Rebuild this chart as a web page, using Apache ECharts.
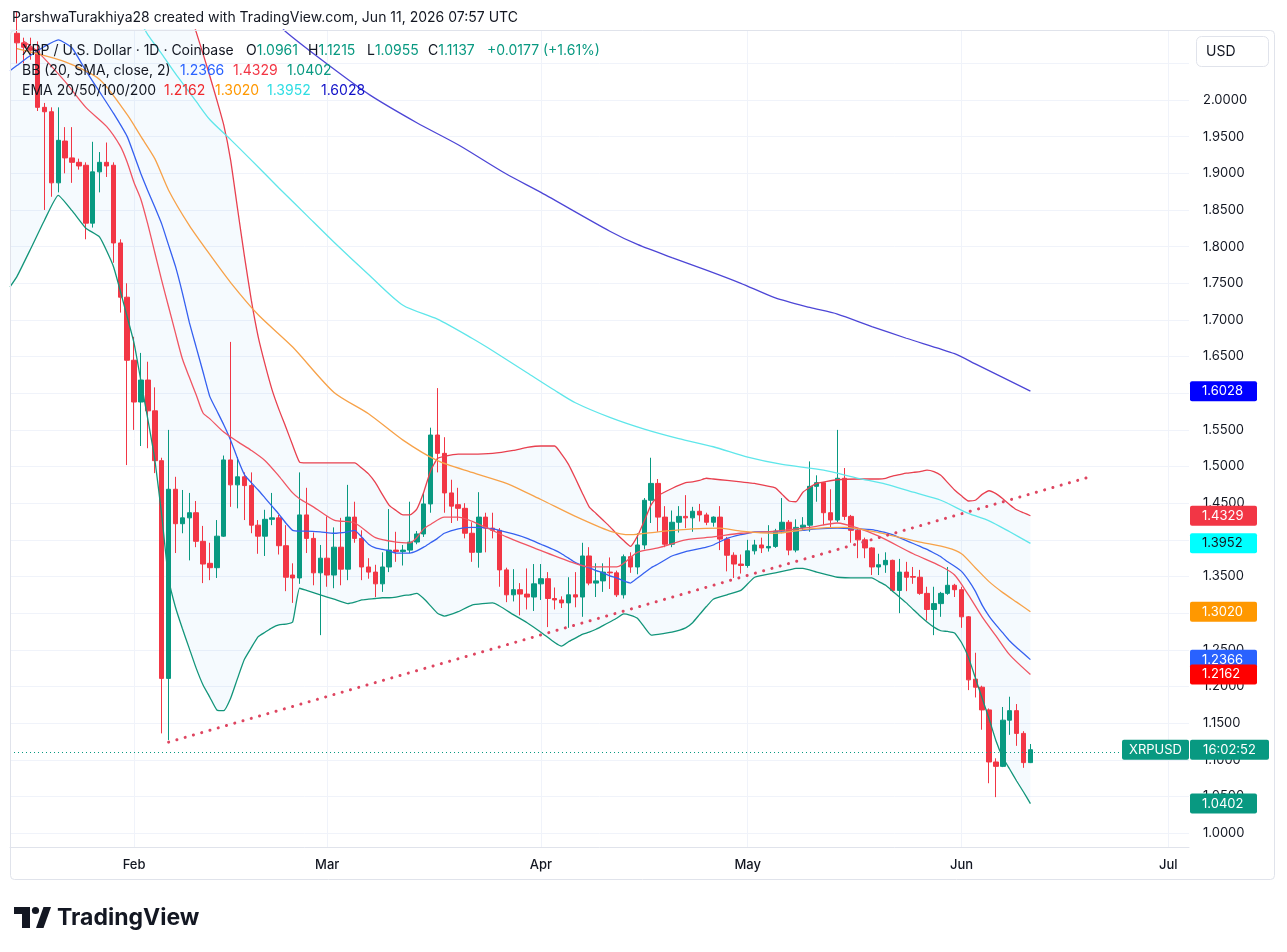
<!DOCTYPE html>
<html lang="en">
<head>
<meta charset="utf-8">
<title>XRP / U.S. Dollar · 1D · Coinbase</title>
<script src="https://cdn.jsdelivr.net/npm/echarts@6.0.0/dist/echarts.min.js"></script>
<style>
  html, body { margin: 0; padding: 0; background: #ffffff; }
  #chart { width: 1287px; height: 952px; }
</style>
</head>
<body>
<div id="chart"></div>
<script>
// days are counted from Jan 1 2026 (Jan 1 = 0)
const axisFirstDay = 13;    // Jan 14, left edge of the pane
const axisLastDay = 184;    // Jul 4, right edge of the pane
const firstCandleDay = 14;  // Jan 15
const monthLabels = ['Jan', 'Feb', 'Mar', 'Apr', 'May', 'Jun', 'Jul'];

// daily candles Jan 15 -> Jun 11
const candleOpen = [
  2.091, 2.078, 2.072, 2.068, 1.990, 1.984, 1.887, 1.944, 1.921, 1.915, 1.911, 1.832, 1.902, 1.915, 1.911, 1.805, 1.731,
  1.645, 1.588, 1.618, 1.576, 1.508, 1.211, 1.469, 1.422, 1.430, 1.437, 1.398, 1.368, 1.362, 1.405, 1.509, 1.475, 1.486, 1.474, 1.420, 1.405, 1.428, 1.430, 1.392, 1.352, 1.348, 1.434, 1.402, 1.355,
  1.375, 1.352, 1.390, 1.360, 1.431, 1.402, 1.363, 1.356, 1.340, 1.363, 1.386, 1.384, 1.386, 1.397, 1.408, 1.449, 1.543, 1.518, 1.464, 1.448, 1.443, 1.409, 1.383, 1.431, 1.416, 1.413, 1.359, 1.325, 1.332, 1.326, 1.322,
  1.340, 1.347, 1.320, 1.318, 1.314, 1.325, 1.322, 1.378, 1.341, 1.344, 1.356, 1.355, 1.325, 1.377, 1.363, 1.393, 1.454, 1.477, 1.431, 1.394, 1.424, 1.432, 1.430, 1.439, 1.434, 1.424, 1.431, 1.401, 1.379, 1.367,
  1.365, 1.385, 1.393, 1.389, 1.391, 1.412, 1.424, 1.386, 1.417, 1.420, 1.473, 1.478, 1.437, 1.427, 1.484, 1.432, 1.413, 1.400, 1.389, 1.363, 1.366, 1.372, 1.331, 1.356, 1.350, 1.349, 1.327, 1.305, 1.313, 1.327, 1.338,
  1.332, 1.295, 1.210, 1.199, 1.168, 1.097, 1.091, 1.154, 1.167, 1.136, 1.0961
];
const candleHigh = [
  2.120, 2.085, 2.085, 2.080, 1.996, 1.990, 1.990, 1.963, 1.963, 1.920, 1.915, 1.943, 1.929, 1.942, 1.915, 1.810, 1.750,
  1.677, 1.655, 1.643, 1.608, 1.512, 1.550, 1.486, 1.468, 1.464, 1.453, 1.419, 1.396, 1.427, 1.515, 1.670, 1.513, 1.492, 1.492, 1.427, 1.441, 1.464, 1.434, 1.420, 1.368, 1.492, 1.471, 1.410, 1.393,
  1.432, 1.417, 1.430, 1.475, 1.452, 1.413, 1.375, 1.366, 1.383, 1.442, 1.411, 1.393, 1.452, 1.412, 1.464, 1.553, 1.607, 1.540, 1.482, 1.471, 1.450, 1.424, 1.465, 1.437, 1.437, 1.416, 1.362, 1.360, 1.341, 1.361, 1.367,
  1.367, 1.356, 1.335, 1.323, 1.349, 1.356, 1.396, 1.390, 1.368, 1.368, 1.376, 1.358, 1.380, 1.383, 1.409, 1.457, 1.512, 1.483, 1.446, 1.440, 1.446, 1.461, 1.445, 1.449, 1.437, 1.432, 1.446, 1.404, 1.383, 1.380,
  1.400, 1.400, 1.403, 1.420, 1.415, 1.457, 1.427, 1.428, 1.431, 1.507, 1.488, 1.479, 1.469, 1.550, 1.498, 1.434, 1.416, 1.403, 1.390, 1.381, 1.383, 1.373, 1.374, 1.370, 1.363, 1.359, 1.336, 1.336, 1.329, 1.363, 1.340,
  1.336, 1.296, 1.246, 1.201, 1.170, 1.102, 1.172, 1.186, 1.176, 1.139, 1.1215
];
const candleLow = [
  2.050, 2.050, 2.055, 1.985, 1.850, 1.868, 1.874, 1.900, 1.887, 1.905, 1.810, 1.826, 1.874, 1.895, 1.778, 1.710, 1.502,
  1.550, 1.528, 1.525, 1.491, 1.136, 1.127, 1.382, 1.409, 1.372, 1.390, 1.341, 1.345, 1.348, 1.404, 1.445, 1.443, 1.427, 1.409, 1.381, 1.378, 1.420, 1.380, 1.330, 1.314, 1.340, 1.382, 1.338, 1.270,
  1.336, 1.334, 1.338, 1.345, 1.396, 1.345, 1.347, 1.322, 1.329, 1.356, 1.370, 1.365, 1.382, 1.394, 1.404, 1.437, 1.492, 1.437, 1.423, 1.426, 1.402, 1.370, 1.362, 1.383, 1.402, 1.336, 1.315, 1.316, 1.297, 1.305, 1.303,
  1.318, 1.281, 1.305, 1.307, 1.280, 1.308, 1.295, 1.338, 1.322, 1.329, 1.333, 1.322, 1.320, 1.355, 1.353, 1.387, 1.423, 1.411, 1.390, 1.390, 1.410, 1.416, 1.411, 1.425, 1.420, 1.418, 1.386, 1.357, 1.348, 1.354,
  1.362, 1.380, 1.382, 1.384, 1.389, 1.409, 1.379, 1.383, 1.413, 1.411, 1.452, 1.420, 1.417, 1.424, 1.427, 1.396, 1.375, 1.375, 1.352, 1.352, 1.355, 1.329, 1.300, 1.330, 1.340, 1.325, 1.290, 1.270, 1.295, 1.325, 1.322,
  1.280, 1.195, 1.185, 1.141, 1.068, 1.049, 1.090, 1.134, 1.119, 1.089, 1.0955
];
const candleClose = [
  2.078, 2.072, 2.068, 1.990, 1.984, 1.887, 1.945, 1.921, 1.915, 1.910, 1.832, 1.902, 1.915, 1.910, 1.805, 1.731, 1.645,
  1.588, 1.618, 1.576, 1.508, 1.211, 1.469, 1.422, 1.430, 1.437, 1.398, 1.367, 1.362, 1.405, 1.509, 1.475, 1.486, 1.474, 1.420, 1.405, 1.428, 1.430, 1.392, 1.349, 1.348, 1.434, 1.402, 1.355, 1.375,
  1.352, 1.390, 1.360, 1.431, 1.402, 1.363, 1.356, 1.340, 1.363, 1.386, 1.384, 1.386, 1.397, 1.408, 1.449, 1.543, 1.518, 1.464, 1.446, 1.443, 1.409, 1.383, 1.431, 1.416, 1.413, 1.359, 1.325, 1.332, 1.326, 1.322, 1.340,
  1.347, 1.320, 1.318, 1.314, 1.325, 1.322, 1.378, 1.341, 1.344, 1.356, 1.355, 1.325, 1.377, 1.363, 1.393, 1.454, 1.477, 1.431, 1.394, 1.424, 1.432, 1.430, 1.439, 1.434, 1.424, 1.431, 1.401, 1.379, 1.367, 1.365,
  1.385, 1.393, 1.389, 1.391, 1.412, 1.424, 1.386, 1.417, 1.420, 1.473, 1.478, 1.437, 1.427, 1.484, 1.432, 1.413, 1.400, 1.389, 1.363, 1.366, 1.372, 1.331, 1.356, 1.349, 1.349, 1.327, 1.305, 1.313, 1.327, 1.338, 1.332,
  1.295, 1.209, 1.199, 1.168, 1.097, 1.091, 1.154, 1.167, 1.136, 1.0961, 1.1137
];
const dayChangeText = '+0.0177 (+1.61%)';

// Bollinger bands (20, SMA, close, 2)
const bbDay = [
  13, 14, 16, 18, 20, 22, 24, 26, 28, 30,
  31, 32, 33, 34, 35, 36, 37, 38, 39, 40,
  41, 42, 43, 44, 45, 46, 47, 48, 49, 50,
  51, 52, 53, 54, 55, 56, 58, 60, 62, 63,
  64, 65, 66, 67, 68, 69, 70, 71, 72, 73,
  74, 75, 76, 78, 80, 83, 86, 88, 90, 92,
  93, 94, 95, 96, 97, 98, 99, 100, 101, 102,
  103, 104, 105, 106, 107, 109, 111, 112, 113, 114,
  115, 117, 119, 120, 121, 124, 125, 126, 127, 128,
  130, 133, 136, 138, 139, 140, 141, 142, 143, 144,
  145, 146, 147, 148, 149, 150, 151, 152, 153, 154,
  155, 156, 157, 158, 159, 160, 161
];
const bbUpper = [
  2.26, 2.26, 2.26, 2.26, 2.25, 2.25, 2.24, 2.23, 2.22, 2.21,
  2.21, 2.20, 2.20, 2.19, 2.19, 2.18, 2.17, 2.15, 2.125, 2.093,
  2.063, 2.032, 2.000, 1.966, 1.918, 1.852, 1.787, 1.727, 1.677, 1.639,
  1.605, 1.578, 1.554, 1.529, 1.506, 1.505, 1.505, 1.505, 1.505, 1.505,
  1.498, 1.490, 1.478, 1.462, 1.447, 1.440, 1.434, 1.434, 1.442, 1.465,
  1.494, 1.511, 1.514, 1.517, 1.517, 1.518, 1.522, 1.526, 1.528, 1.528,
  1.517, 1.503, 1.484, 1.464, 1.445, 1.436, 1.427, 1.418, 1.408, 1.399,
  1.391, 1.405, 1.426, 1.448, 1.460, 1.470, 1.478, 1.479, 1.481, 1.484,
  1.483, 1.481, 1.479, 1.478, 1.477, 1.471, 1.462, 1.453, 1.452, 1.465,
  1.477, 1.482, 1.483, 1.483, 1.483, 1.484, 1.487, 1.489, 1.491, 1.492,
  1.493, 1.495, 1.493, 1.488, 1.478, 1.468, 1.460, 1.453, 1.454, 1.462,
  1.467, 1.463, 1.456, 1.448, 1.441, 1.437, 1.4329
];
const bbBasis = [
  2.040, 2.047, 2.061, 2.073, 2.082, 2.071, 2.040, 2.011, 1.982, 1.950,
  1.925, 1.899, 1.876, 1.854, 1.831, 1.802, 1.773, 1.737, 1.697, 1.663,
  1.629, 1.595, 1.576, 1.557, 1.536, 1.511, 1.489, 1.478, 1.468, 1.457,
  1.446, 1.435, 1.423, 1.413, 1.412, 1.412, 1.411, 1.409, 1.411, 1.413,
  1.404, 1.394, 1.389, 1.387, 1.385, 1.382, 1.382, 1.382, 1.385, 1.390,
  1.396, 1.402, 1.409, 1.415, 1.417, 1.415, 1.408, 1.402, 1.394, 1.386,
  1.381, 1.375, 1.369, 1.365, 1.362, 1.358, 1.355, 1.351, 1.348, 1.344,
  1.341, 1.348, 1.355, 1.362, 1.367, 1.378, 1.384, 1.386, 1.388, 1.390,
  1.393, 1.402, 1.407, 1.409, 1.411, 1.411, 1.411, 1.411, 1.412, 1.413,
  1.415, 1.416, 1.415, 1.414, 1.412, 1.410, 1.407, 1.403, 1.399, 1.395,
  1.391, 1.387, 1.382, 1.377, 1.370, 1.364, 1.357, 1.345, 1.330, 1.311,
  1.296, 1.284, 1.273, 1.262, 1.253, 1.245, 1.2366
];
const bbLower = [
  1.745, 1.759, 1.797, 1.836, 1.870, 1.849, 1.825, 1.813, 1.773, 1.704,
  1.668, 1.616, 1.564, 1.510, 1.434, 1.347, 1.308, 1.279, 1.252, 1.225,
  1.202, 1.185, 1.168, 1.167, 1.184, 1.211, 1.237, 1.253, 1.268, 1.274,
  1.280, 1.284, 1.285, 1.288, 1.334, 1.331, 1.325, 1.319, 1.313, 1.315,
  1.318, 1.319, 1.320, 1.321, 1.321, 1.322, 1.324, 1.325, 1.327, 1.320,
  1.310, 1.300, 1.296, 1.302, 1.311, 1.314, 1.298, 1.287, 1.274, 1.260,
  1.255, 1.261, 1.266, 1.271, 1.274, 1.278, 1.283, 1.288, 1.293, 1.299,
  1.297, 1.293, 1.281, 1.270, 1.271, 1.274, 1.280, 1.287, 1.298, 1.309,
  1.319, 1.325, 1.331, 1.340, 1.349, 1.355, 1.357, 1.359, 1.361, 1.361,
  1.356, 1.349, 1.348, 1.348, 1.343, 1.338, 1.330, 1.322, 1.314, 1.305,
  1.296, 1.288, 1.281, 1.276, 1.275, 1.273, 1.260, 1.240, 1.212, 1.184,
  1.156, 1.126, 1.103, 1.087, 1.071, 1.056, 1.0402
];

// EMA 20 / 50 / 100 / 200
const ema20Day = [15, 17, 21, 24, 27, 29, 30, 31, 32, 33, 34, 35, 36, 37, 38, 39, 40, 41, 42, 44,
  46, 48, 50, 52, 54, 55, 57, 60, 63, 66, 69, 71, 72, 73, 74, 76, 78, 82, 85, 89,
  94, 97, 101, 104, 107, 111, 115, 119, 124, 129, 133, 136, 139, 144, 148, 150, 152, 154, 156, 158, 161];
const ema20 = [2.080, 2.066, 2.025, 1.990, 1.964, 1.937, 1.915, 1.887, 1.864, 1.830, 1.792, 1.754, 1.718, 1.682, 1.647, 1.622, 1.598, 1.573, 1.565, 1.547,
  1.534, 1.522, 1.508, 1.487, 1.464, 1.456, 1.445, 1.427, 1.423, 1.403, 1.397, 1.396, 1.403, 1.415, 1.421, 1.431, 1.431, 1.417, 1.404, 1.389,
  1.371, 1.363, 1.363, 1.383, 1.389, 1.400, 1.404, 1.409, 1.412, 1.417, 1.423, 1.416, 1.405, 1.381, 1.364, 1.352, 1.325, 1.295, 1.269, 1.243, 1.2162];
const ema50Day = [14, 21, 26, 30, 32, 34, 36, 39, 42, 45, 49, 54, 60, 65, 70, 75, 80, 85, 90, 95,
  100, 103, 107, 112, 116, 119, 124, 129, 134, 139, 145, 149, 151, 153, 155, 157, 159, 161];
const ema50 = [2.070, 2.052, 2.028, 1.980, 1.950, 1.920, 1.877, 1.829, 1.789, 1.751, 1.707, 1.663, 1.601, 1.572, 1.536, 1.508, 1.492, 1.477, 1.455, 1.432,
  1.412, 1.407, 1.411, 1.415, 1.416, 1.412, 1.409, 1.415, 1.417, 1.410, 1.397, 1.389, 1.381, 1.362, 1.343, 1.328, 1.315, 1.3020];
const ema100Day = [32, 33, 35, 37, 40, 42, 45, 48, 52, 56, 60, 65, 70, 75, 80, 83, 88, 92, 95, 100,
  105, 110, 115, 120, 125, 131, 136, 140, 144, 148, 152, 155, 158, 161];
const ema100 = [2.105, 2.089, 2.063, 2.036, 1.998, 1.973, 1.946, 1.918, 1.880, 1.843, 1.806, 1.762, 1.720, 1.701, 1.675, 1.658, 1.628, 1.604, 1.587, 1.567,
  1.551, 1.538, 1.527, 1.513, 1.503, 1.495, 1.484, 1.476, 1.465, 1.454, 1.436, 1.426, 1.411, 1.3952];
const ema200Day = [52, 53, 59, 65, 72, 78, 85, 90, 100, 104, 109, 114, 119, 124, 129, 133, 138, 143, 150, 153, 161];
const ema200 = [2.105, 2.093, 2.049, 2.008, 1.969, 1.939, 1.899, 1.874, 1.821, 1.803, 1.785, 1.768, 1.750, 1.730, 1.717, 1.708, 1.691, 1.675, 1.654, 1.640, 1.6028];

// dotted support line drawn from the Feb 6 low
const trendDay = [36, 170];
const trendPrice = [1.124, 1.487];

const countdown = '16:02:52';

const FONT = 'Inter, "Noto Sans", sans-serif';
const UP = '#089981';
const DOWN = '#f23645';
const TEXT = '#131722';
const GRID = '#f0f3fa';

const dayOf = d => new Date(Date.UTC(2026, 0, 1 + d)).toISOString().slice(0, 10);
const categories = [];
for (let d = axisFirstDay; d <= axisLastDay; d++) categories.push(dayOf(d));
const isMonthStart = (i, v) => v.slice(8) === '01';
const pairs = (days, values) => days.map((d, i) => [dayOf(d), values[i]]);

const candles = [];
for (let d = axisFirstDay; d < firstCandleDay; d++) candles.push(['-', '-', '-', '-']);
candleOpen.forEach((o, i) => candles.push([o, candleClose[i], candleLow[i], candleHigh[i]]));
const lastClose = candleClose[candleClose.length - 1];
const bbWidth = bbUpper.map((u, i) => +(u - bbLower[i]).toFixed(4));

function line(name, days, values, color, smooth) {
  return {
    name, type: 'line', data: pairs(days, values), symbol: 'none',
    smooth: smooth, silent: true, z: 4,
    lineStyle: { color, width: 1.3 }
  };
}

const chart = echarts.init(document.getElementById('chart'));

chart.setOption({
  animation: false,
  backgroundColor: '#ffffff',
  textStyle: { fontFamily: FONT },
  grid: { left: 10, right: 98, top: 30, bottom: 105, containLabel: false, outerBoundsMode: 'none' },
  xAxis: {
    type: 'category',
    data: categories,
    boundaryGap: false,
    axisLine: { show: true, lineStyle: { color: '#e0e3eb' } },
    axisTick: { show: false },
    axisLabel: {
      interval: isMonthStart,
      formatter: v => monthLabels[+v.slice(5, 7) - 1],
      color: TEXT, fontSize: 13, fontWeight: 500, margin: 12, fontFamily: FONT
    },
    splitLine: { show: true, interval: isMonthStart, lineStyle: { color: GRID, width: 1 } }
  },
  yAxis: {
    type: 'value',
    position: 'right',
    min: 0.981,
    max: 2.0955,
    minInterval: 0.05,
    maxInterval: 0.05,
    scale: true,
    axisLine: { show: false },
    axisTick: { show: false },
    axisLabel: {
      formatter: v => v.toFixed(4),
      showMinLabel: false,
      showMaxLabel: false,
      color: TEXT, fontSize: 13, margin: 14, fontFamily: FONT
    },
    splitLine: { show: true, lineStyle: { color: GRID, width: 1 } }
  },
  series: [
    {
      name: 'bb-floor', type: 'line', stack: 'bb', data: pairs(bbDay, bbLower),
      symbol: 'none', smooth: 0.15, silent: true, z: 1, lineStyle: { opacity: 0 }
    },
    {
      name: 'bb-fill', type: 'line', stack: 'bb', data: pairs(bbDay, bbWidth),
      symbol: 'none', smooth: 0.15, silent: true, z: 1, lineStyle: { opacity: 0 },
      areaStyle: { color: 'rgba(33, 150, 243, 0.06)' }
    },
    {
      name: 'XRPUSD', type: 'candlestick', data: candles, barWidth: 5, z: 3,
      itemStyle: { color: UP, color0: DOWN, borderColor: UP, borderColor0: DOWN, borderWidth: 1 },
      markLine: {
        silent: true, symbol: ['none', 'none'], label: { show: false },
        lineStyle: { color: UP, type: [1, 3], width: 1 },
        data: [{ yAxis: lastClose }]
      }
    },
    line('BB upper', bbDay, bbUpper, '#e8404f', 0.15),
    line('BB basis', bbDay, bbBasis, '#3560f0', 0.15),
    line('BB lower', bbDay, bbLower, '#12957a', 0.15),
    line('EMA 20', ema20Day, ema20, '#f05563', 0.25),
    line('EMA 50', ema50Day, ema50, '#f7a249', 0.25),
    line('EMA 100', ema100Day, ema100, '#5fe6ea', 0.25),
    line('EMA 200', ema200Day, ema200, '#4d46d6', 0.25),
    {
      name: 'trend', type: 'line', data: pairs(trendDay, trendPrice), symbol: 'none', silent: true, z: 5,
      lineStyle: { color: '#de4560', width: 3, type: [0.1, 8.5], cap: 'round' }
    }
  ]
});

// ---- overlay texts, boxes and price tags ----
function txt(x, y, text, fill, size, extra) {
  return {
    type: 'text', x, y, z: 100, silent: true,
    style: Object.assign({ text, fill, fontSize: size, fontFamily: FONT, verticalAlign: 'middle' }, extra || {})
  };
}
function box(x, y, w, h, fill, stroke, r) {
  return {
    type: 'rect', z: 99, silent: true,
    shape: { x, y, width: w, height: h, r: r || 0 },
    style: { fill, stroke: stroke || null, lineWidth: 1 }
  };
}
const yPix = v => chart.convertToPixel({ yAxisIndex: 0 }, v);

const graphics = [];
// pane frame
graphics.push({ type: 'rect', z: 98, silent: true, shape: { x: 10.5, y: 30.5, width: 1264, height: 849, r: 4 },
  style: { fill: null, stroke: '#e0e3eb', lineWidth: 1 } });

// header
graphics.push(txt(12, 18, 'ParshwaTurakhiya28 created with TradingView.com, Jun 11, 2026 07:57 UTC', TEXT, 14));
const rich = {
  k: { fill: TEXT, fontSize: 14, fontFamily: FONT },
  g: { fill: UP, fontSize: 14, fontFamily: FONT }
};
graphics.push(txt(22, 51, 'XRP / U.S. Dollar · 1D · Coinbase', TEXT, 14));
[[246, 'O', candleOpen], [308, 'H', candleHigh], [367, 'L', candleLow], [428, 'C', candleClose]].forEach(([x, k, arr]) => {
  graphics.push(txt(x, 51, '{k|' + k + '}{g|' + arr[arr.length - 1].toFixed(4) + '}', TEXT, 14, { rich }));
});
graphics.push(txt(487, 51, dayChangeText, UP, 14));

graphics.push(txt(22, 71, 'BB (20, SMA, close, 2)', TEXT, 14));
graphics.push(txt(180, 71, bbBasis[bbBasis.length - 1].toFixed(4), '#2962ff', 14));
graphics.push(txt(233, 71, bbUpper[bbUpper.length - 1].toFixed(4), '#f23645', 14));
graphics.push(txt(287, 71, bbLower[bbLower.length - 1].toFixed(4), UP, 14));

graphics.push(txt(22, 91, 'EMA 20/50/100/200', TEXT, 14));
graphics.push(txt(164, 91, ema20[ema20.length - 1].toFixed(4), '#f0272b', 14));
graphics.push(txt(215, 91, ema50[ema50.length - 1].toFixed(4), '#ff9800', 14));
graphics.push(txt(267, 91, ema100[ema100.length - 1].toFixed(4), '#2fdde3', 14));
graphics.push(txt(321, 91, ema200[ema200.length - 1].toFixed(4), '#1010c8', 14));

// currency box
graphics.push(box(1196.5, 36.5, 72, 30, '#ffffff', '#e0e3eb', 5));
graphics.push(txt(1206, 52, 'USD', TEXT, 14));

// price tags on the scale
const tags = [
  [ema200[ema200.length - 1], '#0000ff', '#ffffff'],
  [bbUpper[bbUpper.length - 1], '#f23645', '#ffffff'],
  [ema100[ema100.length - 1], '#00ffff', TEXT],
  [ema50[ema50.length - 1], '#ff9800', '#ffffff'],
  [bbBasis[bbBasis.length - 1], '#2962ff', '#ffffff'],
  [ema20[ema20.length - 1], '#ff0000', '#ffffff'],
  [bbLower[bbLower.length - 1], UP, '#ffffff']
];
tags.forEach(([v, bg, fg]) => {
  const y = yPix(v);
  graphics.push(box(1190, y - 10, 67, 20, bg, null, 2));
  graphics.push(txt(1202, y, v.toFixed(4), fg, 13));
});
const yLast = yPix(lastClose);
graphics.push(box(1122, yLast - 10, 67, 20, UP, null, 2));
graphics.push(txt(1155.5, yLast, 'XRPUSD', '#ffffff', 13, { align: 'center' }));
graphics.push(box(1190, yLast - 10, 79, 20, UP, null, 2));
graphics.push(txt(1229.5, yLast, countdown, '#ffffff', 13, { align: 'center' }));

// TradingView logo
graphics.push({ type: 'rect', z: 100, silent: true, shape: { x: 14, y: 907, width: 16, height: 7 }, style: { fill: TEXT } });
graphics.push({ type: 'rect', z: 100, silent: true, shape: { x: 22, y: 907, width: 8, height: 21 }, style: { fill: TEXT } });
graphics.push({ type: 'circle', z: 100, silent: true, shape: { cx: 35.5, cy: 910.5, r: 3.6 }, style: { fill: TEXT } });
graphics.push({ type: 'polygon', z: 100, silent: true, shape: { points: [[36, 928], [43.5, 928], [51, 907], [43.5, 907]] }, style: { fill: TEXT } });
graphics.push(txt(57, 918, 'TradingView', TEXT, 23, { fontWeight: 700 }));

chart.setOption({ graphic: graphics });
</script>
</body>
</html>
